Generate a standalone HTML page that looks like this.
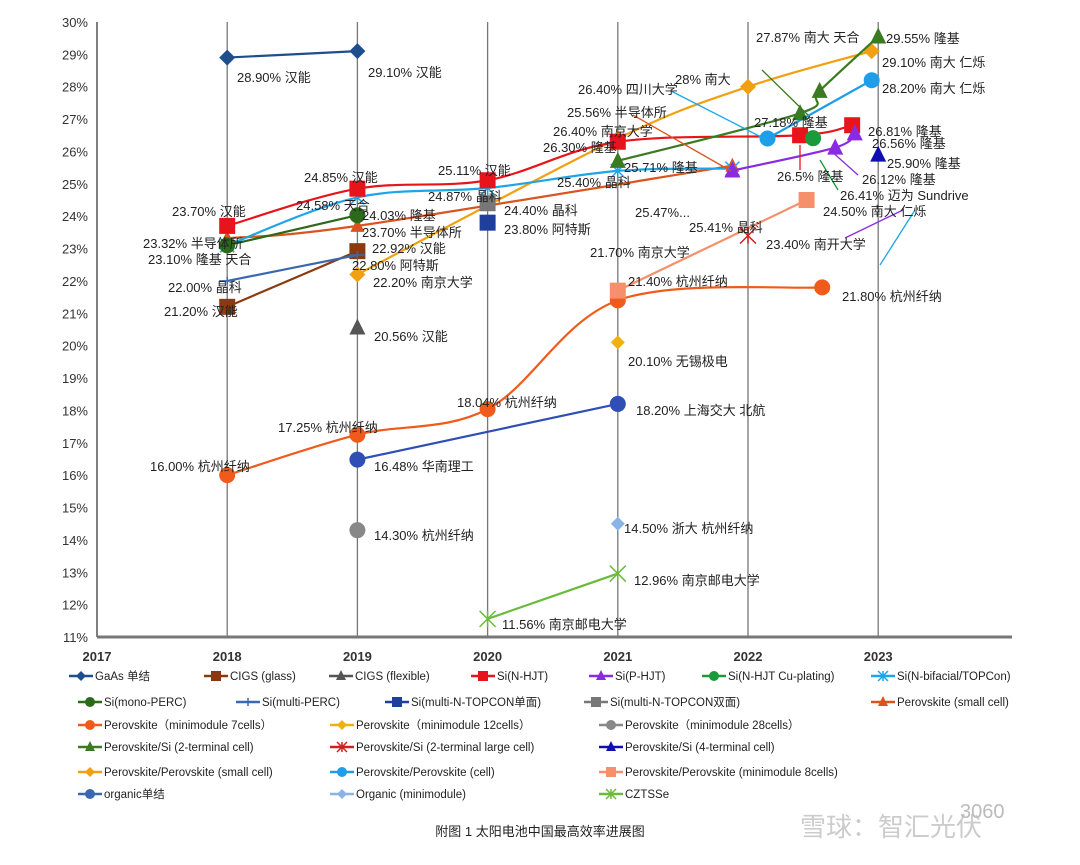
<!DOCTYPE html>
<html><head><meta charset="utf-8"><style>
body{margin:0;background:#fff;font-family:"Liberation Sans","Noto Sans CJK SC",sans-serif}
svg text{font-family:"Liberation Sans","Noto Sans CJK SC",sans-serif}
</style></head><body>
<svg id="c" width="1080" height="860" xmlns="http://www.w3.org/2000/svg"></svg>
<script>
const yTicks=[11,12,13,14,15,16,17,18,19,20,21,22,23,24,25,26,27,28,29,30];
const xTicks=[2017,2018,2019,2020,2021,2022,2023];
const gaasX=[2018,2019], gaasY=[28.9,29.1];
const cigsGX=[2018,2019], cigsGY=[21.2,22.92];
const cigsFX=[2019], cigsFY=[20.56];
const nhjtX=[2018,2019,2020,2021,2022.4,2022.8], nhjtY=[23.7,24.85,25.11,26.3,26.5,26.81];
const phjtX=[2021.88,2022.67,2022.82], phjtY=[25.41,26.12,26.56];
const cuX=[2022.5], cuY=[26.41];
const topX=[2018,2019,2020,2021,2021.88], topY=[23.1,24.58,24.87,25.4,25.47];
const monoX=[2018,2019], monoY=[23.1,24.03];
const multiX=[2018,2019], multiY=[22.0,22.8];
const ntop1X=[2020], ntop1Y=[23.8];
const ntop2X=[2020], ntop2Y=[24.4];
const pskX=[2018,2019,2021.88], pskY=[23.32,23.7,25.56];
const p7X=[2018,2019,2020,2021,2022.57], p7Y=[16.0,17.25,18.04,21.4,21.8];
const p12X=[2021], p12Y=[20.1];
const p28X=[2019], p28Y=[14.3];
const t2X=[2021,2022.4,2022.55,2023], t2Y=[25.71,27.18,27.87,29.55];
const t2lX=[2022], t2lY=[23.4];
const t4X=[2023], t4Y=[25.9];
const ppsX=[2019,2021,2022,2022.95], ppsY=[22.2,26.4,28.0,29.1];
const ppcX=[2022.15,2022.95], ppcY=[26.4,28.2];
const pp8X=[2021,2022.45], pp8Y=[21.7,24.5];
const orgX=[2019,2021], orgY=[16.48,18.2];
const orgmX=[2021], orgmY=[14.5];
const cztX=[2020,2021], cztY=[11.56,12.96];

const NS="http://www.w3.org/2000/svg";
const svg=document.getElementById('c');
const X=v=>97+(v-2017)*130.2;
const Y=v=>637-(v-11)*32.37;
function el(t,a,p){const e=document.createElementNS(NS,t);for(const k in a)e.setAttribute(k,a[k]);(p||svg).appendChild(e);return e;}
yTicks.forEach(t=>{const e=el('text',{x:88,y:Y(t)+5,'text-anchor':'end','font-size':13,fill:'#333'});e.textContent=t+'%';

});
xTicks.forEach(t=>{if(t>2017){const l=el('line',{x1:X(t),x2:X(t),y1:Y(30),y2:Y(11),stroke:'#777','stroke-width':1.3});

}
const e=el('text',{x:X(t),y:661,'text-anchor':'middle','font-size':13,'font-weight':'bold',fill:'#333'});e.textContent=t;

});
let a=el('line',{x1:97,x2:97,y1:Y(30),y2:Y(11),stroke:'#555','stroke-width':1.5});

a=el('line',{x1:97,x2:1012,y1:Y(11),y2:Y(11),stroke:'#777','stroke-width':3});


function pathFor(pts){if(pts.length<2)return'';let d='M'+pts[0][0]+','+pts[0][1];
for(let i=0;i<pts.length-1;i++){const p0=pts[i-1]||pts[i],p1=pts[i],p2=pts[i+1],p3=pts[i+2]||p2;
const c1=[p1[0]+(p2[0]-p0[0])/6,p1[1]+(p2[1]-p0[1])/6],c2=[p2[0]-(p3[0]-p1[0])/6,p2[1]-(p3[1]-p1[1])/6];
d+=` C${c1},${c2},${p2}`;}return d;}
function marker(g,m,x,y,c,s){s=s||8;
if(m==='d')el('polygon',{points:`${x},${y-s} ${x+s},${y} ${x},${y+s} ${x-s},${y}`,fill:c},g);
else if(m==='s')el('rect',{x:x-s,y:y-s,width:2*s,height:2*s,fill:c},g);
else if(m==='t')el('polygon',{points:`${x},${y-s-1} ${x+s},${y+s-1} ${x-s},${y+s-1}`,fill:c},g);
else if(m==='c')el('circle',{cx:x,cy:y,r:s,fill:c},g);
else if(m==='x'){el('path',{d:`M${x-s},${y-s}L${x+s},${y+s}M${x-s},${y+s}L${x+s},${y-s}M${x},${y-s}L${x},${y+s}`,stroke:c,'stroke-width':1.5},g);}
else if(m==='p'){el('path',{d:`M${x-s},${y}L${x+s},${y}M${x},${y-4}L${x},${y+4}`,stroke:c,'stroke-width':1.5},g);}
}
function series(name,xs,ys,c,m,s){const g=el('g',{});


const pts=xs.map((x,i)=>[X(x),Y(ys[i])]);
if(pts.length>1)el('path',{d:pathFor(pts),fill:'none',stroke:c,'stroke-width':2.2},g);
pts.forEach(p=>marker(g,m,p[0],p[1],c,s));}
series('series-perovskite-7cells',p7X,p7Y,'#f05a1a','c',8);
series('series-organic',orgX,orgY,'#2f4fb5','c',8);
series('series-czt',cztX,cztY,'#6cba3c','x',8);
series('series-pp-8cells',pp8X,pp8Y,'#f5906a','s',8);
series('series-cigs-glass',cigsGX,cigsGY,'#8b3a10','s',8);
series('series-multi-perc',multiX,multiY,'#3a68b0','p',8);
series('series-pp-small',ppsX,ppsY,'#f0a010','d',8);
series('series-perovskite-small',pskX,pskY,'#d9541e','t',7);
series('series-topcon',topX,topY,'#1ea5e8','x',7);
series('series-mono-perc',monoX,monoY,'#2a6a1a','c',8);
series('series-n-hjt',nhjtX,nhjtY,'#e8141c','s',8);
series('series-pp-cell',ppcX,ppcY,'#1e9ee8','c',8);
series('series-2t',t2X,t2Y,'#3a7a20','t',8);
series('series-p-hjt',phjtX,phjtY,'#8a2be2','t',8);
series('series-cu',cuX,cuY,'#1a9a3a','c',8);
series('series-gaas',gaasX,gaasY,'#1f4e8c','d',8);
series('series-cigs-flex',cigsFX,cigsFY,'#555','t',8);
series('series-ntop1',ntop1X,ntop1Y,'#1f3f9c','s',8);
series('series-ntop2',ntop2X,ntop2Y,'#777','s',8);
series('series-p12',p12X,p12Y,'#f0b010','d',7);
series('series-p28',p28X,p28Y,'#888','c',8);
series('series-2t-large',t2lX,t2lY,'#d02020','x',8);
series('series-4t',t4X,t4Y,'#1010b0','t',8);
series('series-organic-mini',orgmX,orgmY,'#8ab4e8','d',7);

[[671,91,767,140,'#1ea5e8'],[633,115,731,171,'#d9541e'],[762,70,808,115,'#3a7a20'],[800,170,800,145,'#e8141c'],[820,160,838,190,'#1a9a3a'],[830,150,858,175,'#8a2be2'],[845,238,903,210,'#8a2be2'],[880,265,915,210,'#1ea5e8']].forEach(l=>{
const e=el('line',{x1:l[0],y1:l[1],x2:l[2],y2:l[3],stroke:l[4],'stroke-width':1.3});
});

const ann=[[237,77,'28.90% 汉能'],[368,72,'29.10% 汉能'],[172,211,'23.70% 汉能'],[304,177,'24.85% 汉能'],[438,170,'25.11% 汉能'],[296,205,'24.58% 天合'],[362,215,'24.03% 隆基'],[143,243,'23.32% 半导体所'],[148,259,'23.10% 隆基 天合'],[168,287,'22.00% 晶科'],[164,311,'21.20% 汉能'],[362,232,'23.70% 半导体所'],[372,248,'22.92% 汉能'],[352,265,'22.80% 阿特斯'],[373,282,'22.20% 南京大学'],[374,336,'20.56% 汉能'],[428,196,'24.87% 晶科'],[504,210,'24.40% 晶科'],[504,229,'23.80% 阿特斯'],[578,89,'26.40% 四川大学'],[567,112,'25.56% 半导体所'],[553,131,'26.40% 南京大学'],[543,147,'26.30% 隆基'],[624,167,'25.71% 隆基'],[557,182,'25.40% 晶科'],[635,212,'25.47%...'],[689,227,'25.41% 晶科'],[756,37,'27.87% 南大 天合'],[886,38,'29.55% 隆基'],[882,62,'29.10% 南大 仁烁'],[882,88,'28.20% 南大 仁烁'],[754,122,'27.18% 隆基'],[868,131,'26.81% 隆基'],[872,143,'26.56% 隆基'],[887,163,'25.90% 隆基'],[777,176,'26.5% 隆基'],[862,179,'26.12% 隆基'],[840,195,'26.41% 迈为 Sundrive'],[823,211,'24.50% 南大 仁烁'],[766,244,'23.40% 南开大学'],[590,252,'21.70% 南京大学'],[628,281,'21.40% 杭州纤纳'],[842,296,'21.80% 杭州纤纳'],[628,361,'20.10% 无锡极电'],[457,402,'18.04% 杭州纤纳'],[278,427,'17.25% 杭州纤纳'],[150,466,'16.00% 杭州纤纳'],[374,466,'16.48% 华南理工'],[636,410,'18.20% 上海交大 北航'],[374,535,'14.30% 杭州纤纳'],[624,528,'14.50% 浙大 杭州纤纳'],[634,580,'12.96% 南京邮电大学'],[502,624,'11.56% 南京邮电大学'],[675,79,'28% 南大']];
ann.forEach(a=>{const e=el('text',{x:a[0],y:a[1]+5,'font-size':13,fill:'#222'});e.textContent=a[2];

});

const legNames=[['GaAs 单结','#1f4e8c','d',95],['CIGS (glass)','#8b3a10','s',230],['CIGS (flexible)','#555','t',355],['Si(N-HJT)','#e8141c','s',497],['Si(P-HJT)','#8a2be2','t',615],['Si(N-HJT Cu-plating)','#1a9a3a','c',728],['Si(N-bifacial/TOPCon)','#1ea5e8','x',897],
['Si(mono-PERC)','#2a6a1a','c',104],['Si(multi-PERC)','#3a68b0','p',262],['Si(multi-N-TOPCON单面)','#1f3f9c','s',411],['Si(multi-N-TOPCON双面)','#777','s',610],['Perovskite (small cell)','#d9541e','t',897],
['Perovskite（minimodule 7cells）','#f05a1a','c',104],['Perovskite（minimodule 12cells）','#f0b010','d',356],['Perovskite（minimodule 28cells）','#888','c',625],
['Perovskite/Si (2-terminal cell)','#3a7a20','t',104],['Perovskite/Si (2-terminal large cell)','#d02020','x',356],['Perovskite/Si (4-terminal cell)','#1010b0','t',625],
['Perovskite/Perovskite (small cell)','#f0a010','d',104],['Perovskite/Perovskite (cell)','#1e9ee8','c',356],['Perovskite/Perovskite (minimodule 8cells)','#f5906a','s',625],
['organic单结','#3a68b0','c',104],['Organic (minimodule)','#8ab4e8','d',356],['CZTSSe','#6cba3c','x',625]];
const rowOf=[0,0,0,0,0,0,0,1,1,1,1,1,2,2,2,3,3,3,4,4,4,5,5,5];
const rowY=[676,702,725,747,772,794];
legNames.forEach((n,i)=>{const g=el('g',{});


const y=rowY[rowOf[i]],tx=n[3],mx=tx-14;
el('line',{x1:mx-12,x2:mx+12,y1:y,y2:y,stroke:n[1],'stroke-width':2.5},g);
marker(g,n[2],mx,y,n[1],5);
const t=el('text',{x:tx,y:y+4,'font-size':11.5,fill:'#222'},g);t.textContent=n[0];});
const cap=el('text',{x:540,y:836,'text-anchor':'middle','font-size':13,fill:'#222','font-family':'"Liberation Serif","Noto Serif CJK SC",serif'});
cap.textContent='附图 1 太阳电池中国最高效率进展图';


const wm=el('text',{x:800,y:836,'font-size':26,fill:'#ccc'});wm.textContent='雪球：智汇光伏';


const wm2=el('text',{x:960,y:818,'font-size':20,fill:'#bbb'});wm2.textContent='3060';


</script>
</body></html>
